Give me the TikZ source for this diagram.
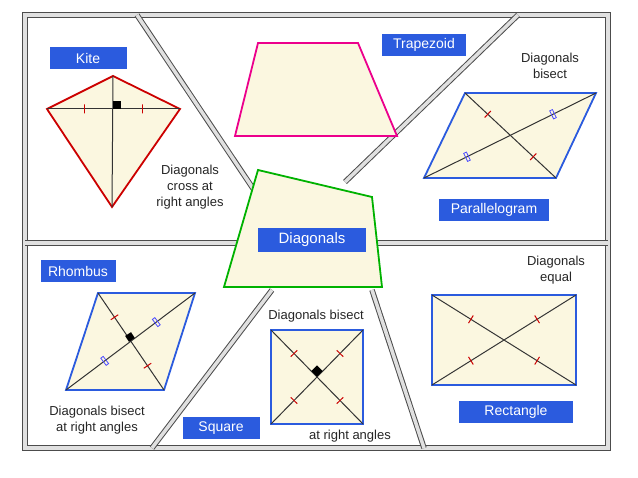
\documentclass[tikz,border=0pt]{standalone}
\usepackage{fontspec}
\setmainfont{Liberation Sans}
\definecolor{lb}{HTML}{2B5BDE}
\begin{document}
\begin{tikzpicture}[x=1pt,y=-1pt,
  lbl/.style={fill=lb,text=white,minimum height=22pt,font=\fontsize{14}{16}\selectfont,inner sep=0pt},
  txt/.style={align=center,font=\fontsize{13}{16}\selectfont,text=black!85},
  band/.style={draw=black!70,double=black!12,double distance=3.5pt,line width=1pt},
  shp/.style={fill=yellow!8!white!94!brown,line width=1.8pt},
  dg/.style={draw=black!80,line width=1pt},
  tk/.style={sloped,draw=red!80!black,line width=1pt,minimum height=9pt,minimum width=0pt,inner sep=0pt},
  tkb/.style={sloped,draw=blue!70,line width=0.8pt,minimum height=9pt,minimum width=3pt,inner sep=0pt}]
\useasboundingbox (0,0) rectangle (638,478);
\fill[white] (0,0) rectangle (638,478);
% frame
\draw[band] (25,15) rectangle (608,448);
\draw[band] (25,243) -- (608,243);
\draw[band] (137,15) -- (254,190);
\draw[band] (518,15) -- (345,182);
\draw[band] (272,290) -- (152,448);
\draw[band] (372,290) -- (424,448);
% kite
\coordinate (kt) at (113,76); \coordinate (kl) at (47,109); \coordinate (kr) at (180,109); \coordinate (kb) at (112,207);
\filldraw[shp,draw=red!80!black] (kt)--(kr)--(kb)--(kl)--cycle;
\draw[dg] (kt)--(kb); \draw[dg] (kl)--(kr);
\path (kl)--(kr) node[tk,pos=0.28]{} node[tk,pos=0.72]{};
\fill (113,101) rectangle (121,109);
\node[lbl,minimum width=77pt] (kite) at (88,58) {Kite};
\node[txt] (t1) at (190,187) {Diagonals\\cross at\\right angles};
% trapezoid
\filldraw[shp,draw=magenta] (258,43)--(358,43)--(397,136)--(235,136)--cycle;
\node[lbl,minimum width=84pt] (trap) at (424,45) {Trapezoid};
% parallelogram
\coordinate (p1) at (465,93); \coordinate (p2) at (596,93); \coordinate (p3) at (556,178); \coordinate (p4) at (424,178);
\filldraw[shp,draw=lb] (p1)--(p2)--(p3)--(p4)--cycle;
\draw[dg] (p1)--(p3); \draw[dg] (p4)--(p2);
\path (p1)--(p3) node[tk,pos=0.25]{} node[tk,pos=0.75]{};
\path (p4)--(p2) node[tkb,pos=0.25]{} node[tkb,pos=0.75]{};
\node[txt] (t2) at (550,66) {Diagonals\\bisect};
\node[lbl,minimum width=110pt] (para) at (494,210) {Parallelogram};
% center
\filldraw[shp,draw=green!70!black] (258,170)--(372,197)--(382,287)--(224,287)--cycle;
\node[lbl,minimum width=108pt,minimum height=24pt,font=\fontsize{15}{17}\selectfont] (diag) at (312,240) {Diagonals};
% rhombus
\coordinate (r1) at (98,293); \coordinate (r2) at (195,293); \coordinate (r3) at (164,390); \coordinate (r4) at (66,390);
\filldraw[shp,draw=lb] (r1)--(r2)--(r3)--(r4)--cycle;
\draw[dg] (r1)--(r3); \draw[dg] (r4)--(r2);
\path (r1)--(r3) node[tk,pos=0.25]{} node[tk,pos=0.75]{};
\path (r4)--(r2) node[tkb,pos=0.3]{} node[tkb,pos=0.7]{};
\node[fill=black,rotate=33,minimum size=7pt,inner sep=0pt] (ra) at (130,337) {};
\node[lbl,minimum width=75pt] (rh) at (78,271) {Rhombus};
\node[txt] (t3) at (97,420) {Diagonals bisect\\at right angles};
% square
\coordinate (s1) at (271,330); \coordinate (s2) at (363,330); \coordinate (s3) at (363,424); \coordinate (s4) at (271,424);
\filldraw[shp,draw=lb] (s1)--(s2)--(s3)--(s4)--cycle;
\draw[dg] (s1)--(s3); \draw[dg] (s4)--(s2);
\path (s1)--(s3) node[tk,pos=0.25]{} node[tk,pos=0.75]{};
\path (s4)--(s2) node[tk,pos=0.25]{} node[tk,pos=0.75]{};
\node[fill=black,rotate=45,minimum size=8pt,inner sep=0pt] (sa) at (317,371) {};
\node[txt] (t4) at (316,316) {Diagonals bisect};
\node[txt] (t5) at (350,436) {at right angles};
\node[lbl,minimum width=77pt] (sq) at (221,428) {Square};
% rectangle
\coordinate (q1) at (432,295); \coordinate (q2) at (576,295); \coordinate (q3) at (576,385); \coordinate (q4) at (432,385);
\filldraw[shp,draw=lb] (q1)--(q2)--(q3)--(q4)--cycle;
\draw[dg] (q1)--(q3); \draw[dg] (q4)--(q2);
\path (q1)--(q3) node[tk,pos=0.27]{} node[tk,pos=0.73]{};
\path (q4)--(q2) node[tk,pos=0.27]{} node[tk,pos=0.73]{};
\node[txt] (t6) at (556,270) {Diagonals\\equal};
\node[lbl,minimum width=114pt] (rect) at (516,412) {Rectangle};
\end{tikzpicture}
\end{document}
